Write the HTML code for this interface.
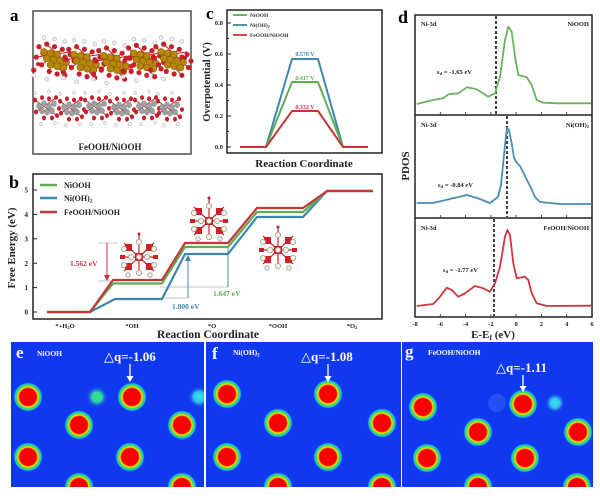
<!DOCTYPE html>
<html><head><meta charset="utf-8"><style>
html,body{margin:0;padding:0;background:#fff;}
svg{display:block;}
text{font-family:"Liberation Serif","DejaVu Serif",serif;font-weight:bold;}
</style></head><body>
<svg width="600" height="498" viewBox="0 0 600 498" xmlns="http://www.w3.org/2000/svg">
<defs>
<radialGradient id="at">
<stop offset="0" stop-color="#ff0000"/>
<stop offset="0.56" stop-color="#f20000"/>
<stop offset="0.62" stop-color="#ff7a00"/>
<stop offset="0.67" stop-color="#eee600"/>
<stop offset="0.76" stop-color="#40e050"/>
<stop offset="0.88" stop-color="#20c0d8"/>
<stop offset="1" stop-color="#1a40f0" stop-opacity="0"/>
</radialGradient>
<radialGradient id="gb">
<stop offset="0" stop-color="#30e878"/>
<stop offset="0.45" stop-color="#30d8a8"/>
<stop offset="1" stop-color="#1a40f0" stop-opacity="0"/>
</radialGradient>
<radialGradient id="cb">
<stop offset="0" stop-color="#30e8e8"/>
<stop offset="0.5" stop-color="#30c0f0"/>
<stop offset="1" stop-color="#1a40f0" stop-opacity="0"/>
</radialGradient>
<g id="fe">
<g stroke="#c82028" stroke-width="0.8">
<line x1="-12" y1="-10" x2="8" y2="12"/><line x1="-14" y1="-2" x2="12" y2="-6"/><line x1="-6" y1="-12" x2="13" y2="6"/><line x1="-10" y1="4" x2="6" y2="-8"/>
</g>
<g fill="#c8202a">
<circle cx="-12" cy="-10" r="2"/><circle cx="-6" cy="-12" r="2"/><circle cx="0" cy="-10" r="2"/><circle cx="6" cy="-8" r="2"/><circle cx="12" cy="-4" r="2"/><circle cx="-14" cy="-2" r="2"/><circle cx="-10" cy="4" r="2"/><circle cx="-4" cy="9" r="2"/><circle cx="2" cy="11" r="2"/><circle cx="8" cy="12" r="2"/><circle cx="13" cy="6" r="2"/><circle cx="-9" cy="-5" r="2"/><circle cx="8" cy="-2" r="2"/><circle cx="15" cy="1" r="2"/><circle cx="-16" cy="8" r="2"/>
</g>
<g fill="#b8860b" stroke="#8a6000" stroke-width="0.5">
<circle cx="-8" cy="-6" r="2.6"/><circle cx="-3" cy="-5" r="2.6"/><circle cx="2" cy="-4" r="2.6"/><circle cx="-6" cy="-1" r="2.6"/><circle cx="-1" cy="0" r="2.6"/><circle cx="4" cy="1" r="2.6"/><circle cx="9" cy="2" r="2.6"/><circle cx="-3" cy="4" r="2.6"/><circle cx="2" cy="5" r="2.6"/><circle cx="7" cy="6" r="2.6"/>
</g>
<g fill="#eee" stroke="#aaa" stroke-width="0.4">
<circle cx="-8" cy="-17" r="1.5"/><circle cx="0" cy="-16" r="1.5"/><circle cx="8" cy="-14" r="1.5"/><circle cx="-16" cy="12" r="1.5"/><circle cx="-6" cy="15" r="1.5"/>
</g>
</g>
<g id="ni">
<g stroke="#c82028" stroke-width="0.8">
<line x1="-12" y1="-5" x2="10" y2="8"/><line x1="-11" y1="5" x2="9" y2="-7"/>
</g>
<g fill="#c8202a">
<circle cx="-12" cy="-5" r="2"/><circle cx="-5" cy="-7" r="2"/><circle cx="2" cy="-6" r="2"/><circle cx="9" cy="-7" r="2"/><circle cx="12" cy="2" r="2"/><circle cx="-11" cy="5" r="2"/><circle cx="-3" cy="10" r="2"/><circle cx="5" cy="10" r="2"/><circle cx="10" cy="8" r="2"/>
</g>
<g fill="#a0a0a0" stroke="#777" stroke-width="0.4">
<circle cx="-8" cy="0" r="2.5"/><circle cx="-3" cy="-2" r="2.5"/><circle cx="2" cy="0" r="2.5"/><circle cx="7" cy="-2" r="2.5"/><circle cx="-5" cy="4" r="2.5"/><circle cx="0" cy="5" r="2.5"/><circle cx="5" cy="4" r="2.5"/>
</g>
<g fill="#eee" stroke="#aaa" stroke-width="0.4">
<circle cx="-12" cy="-11" r="1.5"/><circle cx="2" cy="-12" r="1.5"/><circle cx="-6" cy="15" r="1.5"/><circle cx="8" cy="14" r="1.5"/>
</g>
</g>
<g id="mol">
<line x1="19" y1="0" x2="19" y2="8" stroke="#a03030" stroke-width="1.2"/>
<circle cx="19" cy="1" r="1.5" fill="#c02020"/>
<g fill="#d02028">
<rect x="5" y="11" width="7" height="7"/><rect x="26" y="11" width="7" height="7"/><rect x="5" y="30" width="7" height="7"/><rect x="26" y="30" width="7" height="7"/><rect x="15" y="20" width="8" height="8"/>
<rect x="0" y="22" width="5" height="4"/><rect x="33" y="22" width="5" height="4"/>
</g>
<g stroke="#d02028" stroke-width="1.2">
<line x1="4" y1="10" x2="34" y2="38"/><line x1="34" y1="10" x2="4" y2="38"/><line x1="19" y1="10" x2="19" y2="42"/><line x1="2" y1="24" x2="36" y2="24"/>
</g>
<g fill="#f4f4f0" stroke="#9a9a7a" stroke-width="0.8">
<circle cx="19" cy="9" r="2.6"/><circle cx="4" cy="16" r="2.6"/><circle cx="34" cy="16" r="2.6"/><circle cx="11" cy="24" r="2.6"/><circle cx="27" cy="24" r="2.6"/><circle cx="19" cy="24" r="2.6"/><circle cx="4" cy="32" r="2.6"/><circle cx="34" cy="32" r="2.6"/><circle cx="19" cy="40" r="2.6"/><circle cx="8" cy="42" r="2.2"/><circle cx="30" cy="42" r="2.2"/>
</g>
</g>
</defs>

<!-- Panel a -->
<text x="10" y="21" font-size="17">a</text>
<rect x="33" y="11" width="158" height="143" fill="#fff" stroke="#333" stroke-width="1.3"/>
<g transform="translate(0,106) scale(1,1.2) translate(0,-106)">
<use href="#ni" x="47" y="106"/><use href="#ni" x="72" y="107"/><use href="#ni" x="97" y="106"/><use href="#ni" x="122" y="107"/><use href="#ni" x="147" y="106"/><use href="#ni" x="170" y="107"/>
</g>
<g transform="translate(113,61) scale(1.3) translate(-113,-61)">
<use href="#fe" x="68" y="60"/><use href="#fe" x="91" y="62"/><use href="#fe" x="114" y="63"/><use href="#fe" x="137" y="61"/><use href="#fe" x="158" y="60"/>
</g>
<circle cx="38" cy="64" r="2" fill="#c8202a"/><circle cx="185" cy="58" r="2" fill="#c8202a"/>
<text x="110" y="150" font-size="9" text-anchor="middle" fill="#222">FeOOH/NiOOH</text>

<!-- Panel c -->
<text x="206" y="19" font-size="17">c</text>
<rect x="227" y="10" width="155" height="143" fill="none" stroke="#222" stroke-width="1.5"/>
<g stroke="#222" stroke-width="1">
<line x1="227" y1="23" x2="231" y2="23"/><line x1="227" y1="54" x2="231" y2="54"/><line x1="227" y1="85" x2="231" y2="85"/><line x1="227" y1="116" x2="231" y2="116"/><line x1="227" y1="147" x2="231" y2="147"/>
<line x1="227" y1="38.5" x2="229" y2="38.5"/><line x1="227" y1="69.5" x2="229" y2="69.5"/><line x1="227" y1="100.5" x2="229" y2="100.5"/><line x1="227" y1="131.5" x2="229" y2="131.5"/>
</g>
<g font-size="6.5" text-anchor="end" fill="#222">
<text x="223" y="25">0.8</text><text x="223" y="56">0.6</text><text x="223" y="87">0.4</text><text x="223" y="118">0.2</text><text x="223" y="149">0.0</text>
</g>
<text transform="translate(210,82) rotate(-90)" font-size="10.5" text-anchor="middle" fill="#222">Overpotential (V)</text>
<text x="304" y="167" font-size="11" text-anchor="middle" fill="#222">Reaction Coordinate</text>
<g fill="none" stroke-width="2" stroke-linejoin="round">
<polyline points="240,147 266,147 292,59 318,59 343,147 368,147" stroke="#3f86ad"/>
<polyline points="240,147 266,147 292,82 318,82 343,147 368,147" stroke="#5fae57"/>
<polyline points="240,147 266,147 292,111 318,111 343,147 368,147" stroke="#c4363a"/>
</g>
<g font-size="6" text-anchor="middle">
<text x="305" y="56" fill="#3f86ad">0.570 V</text>
<text x="305" y="80" fill="#5fae57">0.417 V</text>
<text x="305" y="109" fill="#c4363a">0.332 V</text>
</g>
<g stroke-width="1.8">
<line x1="233" y1="15" x2="247" y2="15" stroke="#5fae57"/>
<line x1="233" y1="25" x2="247" y2="25" stroke="#3f86ad"/>
<line x1="233" y1="35" x2="247" y2="35" stroke="#c4363a"/>
</g>
<g font-size="5.5" fill="#333">
<text x="250" y="17">NiOOH</text>
<text x="250" y="27">Ni(OH)<tspan font-size="4" dy="1">2</tspan></text>
<text x="250" y="37">FeOOH/NiOOH</text>
</g>

<!-- Panel b -->
<text x="9" y="188" font-size="18">b</text>
<rect x="33" y="174" width="349" height="145" fill="none" stroke="#222" stroke-width="1.5"/>
<g stroke="#222" stroke-width="1">
<line x1="33" y1="190" x2="37" y2="190"/><line x1="33" y1="214.4" x2="37" y2="214.4"/><line x1="33" y1="238.8" x2="37" y2="238.8"/><line x1="33" y1="263.2" x2="37" y2="263.2"/><line x1="33" y1="287.6" x2="37" y2="287.6"/><line x1="33" y1="312" x2="37" y2="312"/>
</g>
<g font-size="7" text-anchor="end" fill="#222">
<text x="28" y="192.5">5</text><text x="28" y="217">4</text><text x="28" y="241.5">3</text><text x="28" y="266">2</text><text x="28" y="290">1</text><text x="28" y="314.5">0</text>
</g>
<text transform="translate(15,248) rotate(-90)" font-size="11" text-anchor="middle" fill="#222">Free Energy (eV)</text>
<g font-size="6.5" text-anchor="middle" fill="#222">
<text x="65" y="328">*+H<tspan font-size="4.5" dy="1">2</tspan><tspan dy="-1">O</tspan></text>
<text x="132" y="328">*OH</text>
<text x="212" y="328">*O</text>
<text x="278" y="328">*OOH</text>
<text x="352" y="328">*O<tspan font-size="4.5" dy="1">2</tspan></text>
</g>
<text x="208" y="338" font-size="11.5" text-anchor="middle" fill="#222">Reaction Coordinate</text>
<g stroke-width="2.5">
<line x1="40" y1="185" x2="57" y2="185" stroke="#5fae57"/>
<line x1="40" y1="198" x2="57" y2="198" stroke="#3f86ad"/>
<line x1="40" y1="212" x2="57" y2="212" stroke="#c4363a"/>
</g>
<g font-size="8" fill="#222">
<text x="64" y="188">NiOOH</text>
<text x="64" y="201">Ni(OH)<tspan font-size="5.5" dy="1.5">2</tspan></text>
<text x="64" y="215">FeOOH/NiOOH</text>
</g>
<use href="#mol" x="120" y="233"/>
<use href="#mol" x="190" y="197"/>
<use href="#mol" x="259" y="226"/>
<g stroke="#888" stroke-width="0.6">
<line x1="98" y1="243" x2="118" y2="243"/>
<line x1="98" y1="281" x2="118" y2="281"/>
<line x1="160" y1="287" x2="228" y2="287"/>
<line x1="160" y1="298" x2="188" y2="298"/>
</g>
<g fill="none" stroke-width="2.2" stroke-linejoin="round">
<polyline points="47,312 90,312 115,299 162,299 185,254 228,254 257,217 303,217 327,191 373,191" stroke="#3f86ad"/>
<polyline points="47,312 90,312 113,283.5 162,283.5 185,247 228,247 257,212 303,212 327,191 373,191" stroke="#5fae57"/>
<polyline points="47,312 90,312 113,280 162,280 185,243 228,243 257,208 303,208 327,191 373,191" stroke="#c4363a"/>
</g>
<line x1="107" y1="243" x2="107" y2="276" stroke="#c4363a" stroke-width="1"/>
<polygon points="104,275 110,275 107,281" fill="#c4363a"/>
<text x="70" y="266" font-size="7.5" fill="#c4363a">1.562 eV</text>
<line x1="188" y1="298" x2="188" y2="260" stroke="#3f86ad" stroke-width="1"/>
<polygon points="185,261 191,261 188,255" fill="#3f86ad"/>
<text x="172" y="309" font-size="7.5" fill="#3f86ad">1.800 eV</text>
<line x1="228" y1="248" x2="228" y2="287" stroke="#3f9a8a" stroke-width="1"/>
<text x="213" y="296" font-size="7.5" fill="#5fae57">1.647 eV</text>

<!-- Panel d -->
<text x="398" y="23" font-size="18">d</text>
<rect x="415" y="15" width="177" height="302" fill="none" stroke="#222" stroke-width="1.5"/>
<line x1="415" y1="115" x2="592" y2="115" stroke="#222" stroke-width="1.5"/>
<line x1="415" y1="218" x2="592" y2="218" stroke="#222" stroke-width="1.5"/>
<g stroke="#222" stroke-width="0.8">
<line x1="440.3" y1="115" x2="440.3" y2="112"/><line x1="465.6" y1="115" x2="465.6" y2="112"/><line x1="490.9" y1="115" x2="490.9" y2="112"/><line x1="516.1" y1="115" x2="516.1" y2="112"/><line x1="541.4" y1="115" x2="541.4" y2="112"/><line x1="566.7" y1="115" x2="566.7" y2="112"/>
<line x1="440.3" y1="218" x2="440.3" y2="215"/><line x1="465.6" y1="218" x2="465.6" y2="215"/><line x1="490.9" y1="218" x2="490.9" y2="215"/><line x1="516.1" y1="218" x2="516.1" y2="215"/><line x1="541.4" y1="218" x2="541.4" y2="215"/><line x1="566.7" y1="218" x2="566.7" y2="215"/>
<line x1="440.3" y1="317" x2="440.3" y2="314"/><line x1="465.6" y1="317" x2="465.6" y2="314"/><line x1="490.9" y1="317" x2="490.9" y2="314"/><line x1="516.1" y1="317" x2="516.1" y2="314"/><line x1="541.4" y1="317" x2="541.4" y2="314"/><line x1="566.7" y1="317" x2="566.7" y2="314"/>
</g>
<g font-size="6.5" text-anchor="middle" fill="#222">
<text x="415" y="326">-8</text><text x="440.3" y="326">-6</text><text x="465.6" y="326">-4</text><text x="490.9" y="326">-2</text><text x="516.1" y="326">0</text><text x="541.4" y="326">2</text><text x="566.7" y="326">4</text><text x="592" y="326">6</text>
</g>
<text x="493" y="338" font-size="11" text-anchor="middle" fill="#222">E-E<tspan font-size="7.5" dy="2">f</tspan><tspan dy="-2"> (eV)</tspan></text>
<text transform="translate(409,166) rotate(-90)" font-size="11" text-anchor="middle" fill="#222">PDOS</text>
<g stroke="#111" stroke-width="1.6" stroke-dasharray="3,2">
<line x1="496" y1="16" x2="496" y2="114"/>
<line x1="507" y1="116" x2="507" y2="217"/>
<line x1="494" y1="219" x2="494" y2="316"/>
</g>
<g fill="none" stroke-width="1.8" stroke-linejoin="round">
<polyline stroke="#6bb35e" points="416.7,104 433.3,100 443.3,98.3 448.3,94.3 458.3,93.3 466.7,87.3 476.7,89.3 488.3,96.7 495,93.3 500,76.7 505,40 508.3,26.7 511.7,31.7 515,56.7 518.3,75 526.7,77.3 531.7,85 536.7,100 543.3,102.7 556.7,103.3 591,103.3"/>
<polyline stroke="#4b8db5" points="416.7,203 433,203 450,199 467,195 477,198 490,203 498,197 501,185 503,165 505,145 507,128 509,130 512,145 514,158 517,163 520,166 523,172 527,180 531,188 535,197 540,202 560,204 591,204"/>
<polyline stroke="#c8383e" points="416.7,306 433.3,304 440,296.7 446.7,287.7 451.7,290 458.3,296.7 465,293.3 475,286 483.3,288.3 490,291.7 495,283.3 500,266.7 505,236.7 507.3,230 510,235 513.3,263.3 516.7,278.3 525,276.7 528.3,280 531.7,293.3 536.7,303.3 546.7,306 591,305.7"/>
</g>
<g font-size="6.5" fill="#222">
<text x="421" y="26">Ni-3d</text>
<text x="589" y="26" text-anchor="end">NiOOH</text>
<text x="421" y="127">Ni-3d</text>
<text x="589" y="127" text-anchor="end">Ni(OH)<tspan font-size="4.5" dy="1">2</tspan></text>
<text x="421" y="230">Ni-3d</text>
<text x="589" y="230" text-anchor="end">FeOOH/NiOOH</text>
<text x="437" y="74">ε<tspan font-size="4.5" dy="1">d</tspan><tspan dy="-1"> = -1.65 eV</tspan></text>
<text x="438" y="187">ε<tspan font-size="4.5" dy="1">d</tspan><tspan dy="-1"> = -0.84 eV</tspan></text>
<text x="443" y="272">ε<tspan font-size="4.5" dy="1">d</tspan><tspan dy="-1"> = -1.77 eV</tspan></text>
</g>

<!-- Panels e f g -->
<rect x="11" y="342" width="193" height="145" fill="#1038ee"/>
<rect x="206" y="342" width="195" height="145" fill="#1038ee"/>
<rect x="402" y="342" width="191" height="145" fill="#1038ee"/>
<svg x="11" y="342" width="193" height="145">
<g transform="translate(-11,-342)">
<circle cx="97" cy="397" r="11" fill="url(#gb)"/>
<circle cx="199" cy="397" r="11" fill="url(#cb)"/>
<circle cx="28" cy="397" r="15" fill="url(#at)"/>
<circle cx="132" cy="397" r="15" fill="url(#at)"/>
<circle cx="79" cy="425" r="15" fill="url(#at)"/>
<circle cx="182" cy="425" r="15" fill="url(#at)"/>
<circle cx="28" cy="457" r="15" fill="url(#at)"/>
<circle cx="130" cy="457" r="15" fill="url(#at)"/>
<circle cx="79" cy="487" r="15" fill="url(#at)"/>
<circle cx="182" cy="487" r="15" fill="url(#at)"/>
</g>
</svg>
<svg x="206" y="342" width="195" height="145">
<g transform="translate(-206,-342)">
<circle cx="227" cy="394" r="15" fill="url(#at)"/>
<circle cx="328" cy="394" r="15" fill="url(#at)"/>
<circle cx="278" cy="423" r="15" fill="url(#at)"/>
<circle cx="382" cy="423" r="15" fill="url(#at)"/>
<circle cx="227" cy="457" r="15" fill="url(#at)"/>
<circle cx="328" cy="457" r="15" fill="url(#at)"/>
<circle cx="278" cy="487" r="15" fill="url(#at)"/>
<circle cx="382" cy="487" r="15" fill="url(#at)"/>
</g>
</svg>
<svg x="402" y="342" width="191" height="145">
<g transform="translate(-402,-342)">
<circle cx="497" cy="403" r="9" fill="#2a5cf4" opacity="0.7"/>
<circle cx="555" cy="403" r="10" fill="url(#cb)"/>
<circle cx="423" cy="407" r="15" fill="url(#at)"/>
<circle cx="523" cy="404" r="15" fill="url(#at)"/>
<circle cx="478" cy="432" r="15" fill="url(#at)"/>
<circle cx="578" cy="432" r="15" fill="url(#at)"/>
<circle cx="427" cy="458" r="15" fill="url(#at)"/>
<circle cx="525" cy="458" r="15" fill="url(#at)"/>
<circle cx="478" cy="487" r="15" fill="url(#at)"/>
<circle cx="577" cy="487" r="15" fill="url(#at)"/>
</g>
</svg>
<g fill="#fff">
<text x="16" y="358" font-size="17">e</text>
<text x="37" y="356" font-size="7.5">NiOOH</text>
<text x="104" y="361" font-size="13" font-family="'DejaVu Sans','Liberation Serif',serif">△<tspan font-family="Liberation Serif">q=-1.06</tspan></text>
<text x="212" y="359" font-size="17">f</text>
<text x="233" y="355" font-size="7.5">Ni(OH)<tspan font-size="5" dy="1.5">2</tspan></text>
<text x="301" y="361" font-size="13" font-family="'DejaVu Sans','Liberation Serif',serif">△<tspan font-family="Liberation Serif">q=-1.08</tspan></text>
<text x="405" y="357" font-size="17">g</text>
<text x="428" y="355" font-size="7.5">FeOOH/NiOOH</text>
<text x="496" y="372" font-size="13" font-family="'DejaVu Sans','Liberation Serif',serif">△<tspan font-family="Liberation Serif">q=-1.11</tspan></text>
</g>
<g stroke="#fff" stroke-width="1.3">
<line x1="130" y1="364" x2="130" y2="377"/>
<line x1="328" y1="364" x2="328" y2="377"/>
<line x1="523" y1="375" x2="523" y2="387"/>
</g>
<g fill="#fff">
<polygon points="126.5,376 133.5,376 130,382"/>
<polygon points="324.5,376 331.5,376 328,382"/>
<polygon points="519.5,386 526.5,386 523,392"/>
</g>
</svg>
</body></html>
